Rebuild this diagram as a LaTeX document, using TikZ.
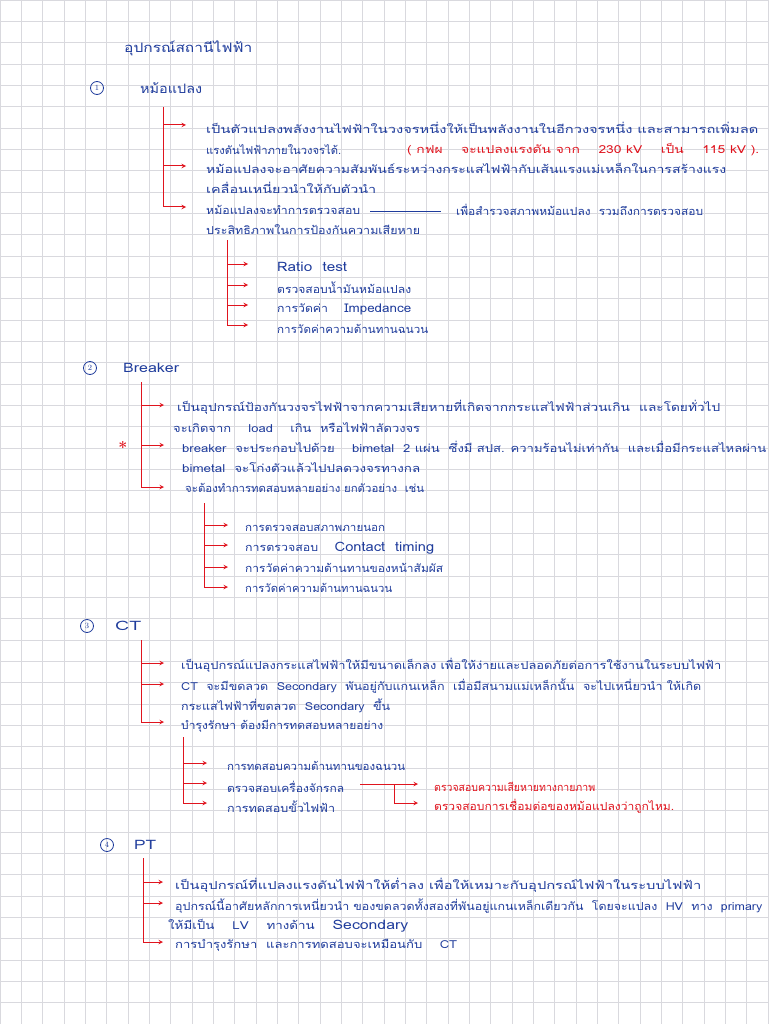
\documentclass[tikz,border=0pt]{standalone}
\usepackage{fontspec}
\usepackage{graphicx}
\newfontfamily\thai[Script=Thai]{Loma}
\definecolor{ink}{HTML}{1F3C9C}
\definecolor{rink}{HTML}{E0141E}
\definecolor{gridc}{HTML}{D9D9DE}
\newcommand{\fitw}[2]{\resizebox{#1pt}{\height}{#2}}
\begin{document}
\begin{tikzpicture}[x=1pt,y=-1pt,
  tx/.style={anchor=west,text=ink,font=\thai\fontsize{11}{12}\selectfont,inner sep=0pt},
  rtx/.style={tx,text=rink},
  hd/.style={anchor=west,text=ink,font=\thai\fontsize{13}{14}\selectfont,inner sep=0pt},
  num/.style={circle,draw=ink,text=ink,line width=0.8pt,inner sep=1pt,minimum size=13pt,font=\fontsize{8}{9}\selectfont},
  br/.style={draw=rink,line width=1pt},
  ar/.style={draw=rink,line width=1pt,-stealth}]
\useasboundingbox (0,0) rectangle (768,1024);
\fill[white] (0,0) rectangle (768,1024);
\foreach \i in {0,...,36} \draw[gridc,line width=0.7pt] (\i*21.333,0) -- (\i*21.333,1024);
\foreach \j in {0,...,48} \draw[gridc,line width=0.7pt] (0,\j*21.333) -- (768,\j*21.333);

\node[hd] (title) at (124,48) {\fitw{128}{อุปกรณ์สถานีไฟฟ้า}};

% 1
\node[num] (n1) at (97,88) {1};
\node[hd] (h1) at (140,88) {\fitw{62}{หม้อแปลง}};
\coordinate (v1a) at (163,107); \coordinate (v1b) at (163,207);
\draw[br] (v1a) -- (v1b);
\node[tx] (a1) at (206,128) {\fitw{552}{เป็นตัวแปลงพลังงานไฟฟ้าในวงจรหนึ่งให้เป็นพลังงานในอีกวงจรหนึ่ง และสามารถเพิ่มลด}};
\node[tx] (a1b) at (206,150) {\fitw{135}{แรงดันไฟฟ้าภายในวงจรได้.}};
\node[rtx] (a1r) at (407,150) {\fitw{352}{( กฟผ \quad จะแปลงแรงดัน จาก \quad 230 kV \quad เป็น \quad 115 kV ).}};
\node[tx] (a2) at (206,168) {\fitw{520}{หม้อแปลงจะอาศัยความสัมพันธ์ระหว่างกระแสไฟฟ้ากับเส้นแรงแม่เหล็กในการสร้างแรง}};
\node[tx] (a2b) at (206,188) {\fitw{170}{เคลื่อนเหนี่ยวนำให้กับตัวนำ}};
\node[tx] (a3) at (206,210) {\fitw{154}{หม้อแปลงจะทำการตรวจสอบ}};
\draw[ink,line width=1pt] (370,212) -- (441,212);
\node[tx] (a3c) at (456,210) {\fitw{247}{เพื่อสำรวจสภาพหม้อแปลง \ รวมถึงการตรวจสอบ}};
\node[tx] (a3b) at (206,230) {\fitw{214}{ประสิทธิภาพในการป้องกันความเสียหาย}};
\foreach \c/\y in {a1/125,a2/166,a3/207} {\coordinate (s\c) at (163,\y); \draw[ar] (s\c) -- ++(23,0);}
\coordinate (v1c) at (227,240); \coordinate (v1d) at (227,325);
\draw[br] (v1c) -- (v1d);
\node[hd] (b1) at (277,267) {\fitw{70}{Ratio \ test}};
\node[tx] (b2) at (277,288) {\fitw{134}{ตรวจสอบน้ำมันหม้อแปลง}};
\node[tx] (b3) at (277,309) {\fitw{134}{การวัดค่า \quad {\fontsize{12}{12}\selectfont Impedance}}};
\node[tx] (b4) at (277,329) {\fitw{151}{การวัดค่าความต้านทานฉนวน}};
\foreach \c/\y in {b1/264,b2/285,b3/305,b4/325} {\coordinate (s\c) at (227,\y); \draw[ar] (s\c) -- ++(21,0);}

% 2
\node[num] (n2) at (90,368) {2};
\node[hd] (h2) at (123,368) {\fitw{56}{Breaker}};
\coordinate (v2a) at (141,382); \coordinate (v2b) at (141,487);
\draw[br] (v2a) -- (v2b);
\node[tx] (c1) at (177,407) {\fitw{543}{เป็นอุปกรณ์ป้องกันวงจรไฟฟ้าจากความเสียหายที่เกิดจากกระแสไฟฟ้าส่วนเกิน \ และโดยทั่วไป}};
\node[tx] (c1b) at (173,428) {\fitw{247}{จะเกิดจาก \quad load \quad เกิน \ หรือไฟฟ้าลัดวงจร}};
\node[text=rink,font=\fontsize{16}{16}\selectfont\bfseries,inner sep=0] (star) at (123,447) {*};
\node[tx] (c2) at (182,447) {\fitw{584}{breaker \ จะประกอบไปด้วย \quad bimetal \ 2 แผ่น \ ซึ่งมี สปส. ความร้อนไม่เท่ากัน \ และเมื่อมีกระแสไหลผ่าน}};
\node[tx] (c2b) at (182,468) {\fitw{238}{bimetal \ จะโก่งตัวแล้วไปปลดวงจรทางกล}};
\node[tx] (c3) at (185,488) {\fitw{239}{จะต้องทำการทดสอบหลายอย่าง ยกตัวอย่าง \ เช่น}};
\foreach \c/\y in {c1/405,c2/445,c3/487} {\coordinate (s\c) at (141,\y); \draw[ar] (s\c) -- ++(23,0);}
\coordinate (v2c) at (204,503); \coordinate (v2d) at (204,587);
\draw[br] (v2c) -- (v2d);
\node[tx] (d1) at (245,528) {\fitw{140}{การตรวจสอบสภาพภายนอก}};
\node[tx] (d2) at (245,548) {\fitw{189}{การตรวจสอบ \quad {\fontsize{13}{12}\selectfont Contact \ timing}}};
\node[tx] (d3) at (245,568) {\fitw{198}{การวัดค่าความต้านทานของหน้าสัมผัส}};
\node[tx] (d4) at (245,588) {\fitw{147}{การวัดค่าความต้านทานฉนวน}};
\foreach \c/\y in {d1/525,d2/545,d3/567,d4/587} {\coordinate (s\c) at (204,\y); \draw[ar] (s\c) -- ++(24,0);}

% 3
\node[num] (n3) at (87,626) {3};
\node[hd] (h3) at (115,626) {\fitw{26}{CT}};
\coordinate (v3a) at (141,640); \coordinate (v3b) at (141,722);
\draw[br] (v3a) -- (v3b);
\node[tx] (e1) at (181,665) {\fitw{540}{เป็นอุปกรณ์แปลงกระแสไฟฟ้าให้มีขนาดเล็กลง เพื่อให้ง่ายและปลอดภัยต่อการใช้งานในระบบไฟฟ้า}};
\node[tx] (e2) at (181,686) {\fitw{520}{CT \ จะมีขดลวด \ Secondary \ พันอยู่กับแกนเหล็ก \ เมื่อมีสนามแม่เหล็กนั้น \ จะไปเหนี่ยวนำ ให้เกิด}};
\node[tx] (e2b) at (181,706) {\fitw{209}{กระแสไฟฟ้าที่ขดลวด \ Secondary \ ขึ้น}};
\node[tx] (e3) at (181,726) {\fitw{202}{บำรุงรักษา ต้องมีการทดสอบหลายอย่าง}};
\foreach \c/\y in {e1/663,e2/684,e3/722} {\coordinate (s\c) at (141,\y); \draw[ar] (s\c) -- ++(23,0);}
\coordinate (v3c) at (183,737); \coordinate (v3d) at (183,803);
\draw[br] (v3c) -- (v3d);
\node[tx] (f1) at (227,766) {\fitw{178}{การทดสอบความต้านทานของฉนวน}};
\node[tx] (f2) at (227,787) {\fitw{117}{ตรวจสอบเครื่องจักรกล}};
\node[tx] (f3) at (227,807) {\fitw{108}{การทดสอบขั้วไฟฟ้า}};
\foreach \c/\y in {f1/763,f2/783,f3/803} {\coordinate (s\c) at (183,\y); \draw[ar] (s\c) -- ++(24,0);}
\node[rtx] (g1) at (434,787) {\fitw{161}{ตรวจสอบความเสียหายทางกายภาพ}};
\node[rtx] (g2) at (434,806) {\fitw{240}{ตรวจสอบการเชื่อมต่อของหม้อแปลงว่าถูกไหม.}};
\coordinate (gA) at (360,784); \coordinate (gB) at (394,784);
\draw[ar,shorten >=16pt] (gA) -- (g1.west |- gA);
\draw[ar,shorten >=16pt] (gB) |- (g2.west |- 0,803);

% 4
\node[num] (n4) at (107,845) {4};
\node[hd] (h4) at (134,845) {\fitw{22}{PT}};
\coordinate (v4a) at (143,858); \coordinate (v4b) at (143,942);
\draw[br] (v4a) -- (v4b);
\node[tx] (h1a) at (175,885) {\fitw{526}{เป็นอุปกรณ์ที่แปลงแรงดันไฟฟ้าให้ต่ำลง เพื่อให้เหมาะกับอุปกรณ์ไฟฟ้าในระบบไฟฟ้า}};
\node[tx] (h2a) at (175,906) {\fitw{587}{อุปกรณ์นี้อาศัยหลักการเหนี่ยวนำ ของขดลวดทั้งสองที่พันอยู่แกนเหล็กเดียวกัน \ โดยจะแปลง \ HV \ ทาง \ primary}};
\node[tx] (h2b) at (168,926) {\fitw{240}{ให้มีเป็น \quad LV \quad ทางด้าน \quad {\fontsize{13}{12}\selectfont Secondary}}};
\node[tx] (h3a) at (175,945) {\fitw{282}{การบำรุงรักษา \ และการทดสอบจะเหมือนกับ \quad CT}};
\foreach \c/\y in {h1a/882,h2a/903,h3a/942} {\coordinate (s\c) at (143,\y); \draw[ar] (s\c) -- ++(20,0);}
\end{tikzpicture}
\end{document}
